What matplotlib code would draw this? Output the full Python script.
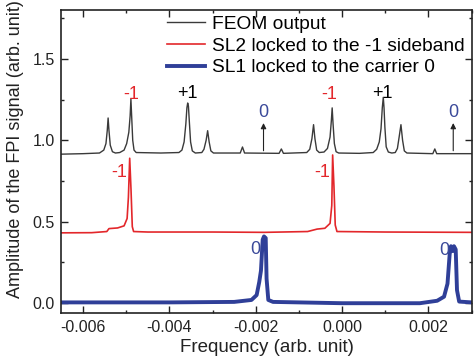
import matplotlib
matplotlib.use("Agg")
import matplotlib.pyplot as plt
from matplotlib.ticker import MultipleLocator, FormatStrFormatter

plt.rcParams['font.family'] = ['Liberation Sans', 'DejaVu Sans']
plt.rcParams['axes.unicode_minus'] = False

# FEOM output (black)
feom_x = [-0.0065, -0.0060, -0.00562, -0.00552, -0.00547, -0.00544, -0.00542, -0.0054,
          -0.00537, -0.00532, -0.00525,
          -0.00515, -0.00505, -0.00499, -0.00494, -0.00491, -0.004892, -0.00487,
          -0.00485, -0.00482, -0.00477,
          -0.0042, -0.00378, -0.00371, -0.00366, -0.00362, -0.003595, -0.003577,
          -0.00356, -0.00354, -0.00351, -0.00347, -0.0034,
          -0.00325, -0.0032, -0.00315, -0.003115, -0.00308, -0.00304, -0.00298,
          -0.00236, -0.002308, -0.00226, -0.00146, -0.001408, -0.00136,
          -0.00082, -0.00075, -0.0007, -0.000662, -0.00063, -0.00059, -0.00053,
          -0.00042, -0.00034, -0.00028, -0.00025, -0.000231, -0.00021, -0.00018,
          -0.00014, -0.00008,
          0.0004, 0.00072, 0.0008, 0.00086, 0.0009, 0.00093, 0.000953, 0.00097,
          0.00099, 0.00102, 0.00107, 0.00115,
          0.00123, 0.00128, 0.00132, 0.001362, 0.0014, 0.00144, 0.0015,
          0.0021, 0.002146, 0.00219, 0.0030]
feom_y = [0.915, 0.918, 0.922, 0.94, 0.98, 1.06, 1.137, 1.06,
          0.97, 0.93, 0.922,
          0.925, 0.94, 0.98, 1.05, 1.15, 1.254, 1.12,
          1.0, 0.94, 0.925,
          0.922, 0.925, 0.94, 0.99, 1.1, 1.2, 1.229,
          1.21, 1.12, 0.99, 0.935, 0.922,
          0.925, 0.945, 1.0, 1.059, 0.99, 0.935, 0.922,
          0.922, 0.959, 0.922, 0.92, 0.947, 0.92,
          0.925, 0.945, 1.01, 1.096, 1.01, 0.94, 0.925,
          0.928, 0.95, 1.02, 1.12, 1.199, 1.1, 0.98,
          0.93, 0.922,
          0.92, 0.925, 0.945, 0.99, 1.07, 1.2, 1.264, 1.2,
          1.08, 0.96, 0.928, 0.922,
          0.925, 0.95, 1.02, 1.096, 1.0, 0.935, 0.922,
          0.918, 0.947, 0.918, 0.918]

# SL2 locked to the -1 sideband (red)
sl2_x = [-0.0065, -0.0058, -0.00545, -0.0054, -0.0052, -0.00505, -0.00498,
         -0.00495, -0.00492, -0.00489, -0.00486, -0.00483, -0.0045, -0.003,
         -0.0018, -0.0008, -0.00058, -0.0004, -0.00028, -0.00024, -0.00022,
         -0.00019, -0.00016, -0.00012, 0.001, 0.003]
sl2_y = [0.432, 0.433, 0.44, 0.458, 0.462, 0.475, 0.52,
         0.65, 0.89, 0.70, 0.47, 0.44, 0.437, 0.437,
         0.435, 0.44, 0.455, 0.46, 0.49, 0.6, 0.91,
         0.72, 0.48, 0.44, 0.437, 0.435]

# SL1 locked to the carrier 0 (blue)
sl1_x = [-0.0065, -0.004, -0.0025, -0.0021, -0.00198, -0.00192, -0.00188,
         -0.00184, -0.00181, -0.00177, -0.00175, -0.00171, -0.0016, 0.0,
         0.0018, 0.0022, 0.00236, 0.00244, 0.00249, 0.00252, 0.00256,
         0.00259, 0.00263, 0.00266, 0.00271, 0.003]
sl1_y = [0.005, 0.005, 0.008, 0.02, 0.05, 0.13, 0.2,
         0.39, 0.41, 0.40, 0.15, 0.02, 0.008, 0.0,
         0.0, 0.015, 0.04, 0.12, 0.3, 0.35, 0.32,
         0.35, 0.33, 0.08, 0.01, 0.005]

labels = ["FEOM output", "SL2 locked to the -1 sideband", "SL1 locked to the carrier 0"]

fig = plt.figure(figsize=(4.74, 3.62), dpi=100)
ax = fig.add_axes([0.1297, 0.1354, 0.8654, 0.837])

ax.plot(feom_x, feom_y, color="#3a3a3a", lw=1.0, label=labels[0])
ax.plot(sl2_x, sl2_y, color="#e3272b", lw=1.2, label=labels[1])
ax.plot(sl1_x, sl1_y, color="#2f3f98", lw=2.8, label=labels[2])

# подписи пиков
red = "#e3272b"
blue = "#3b4a9a"
fs = 13
ax.text(-0.004878, 1.28, "-1", color=red, fontsize=fs, ha="center", va="center")
ax.text(-0.003593, 1.29, "+1", color="black", fontsize=fs, ha="center", va="center")
ax.text(-0.000293, 1.28, "-1", color=red, fontsize=fs, ha="center", va="center")
ax.text(0.000937, 1.29, "+1", color="black", fontsize=fs, ha="center", va="center")
ax.text(-0.001821, 1.17, "0", color=blue, fontsize=fs, ha="center", va="center")
ax.text(0.002573, 1.17, "0", color=blue, fontsize=fs, ha="center", va="center")
ax.text(-0.005158, 0.804, "-1", color=red, fontsize=fs, ha="center", va="center")
ax.text(-0.000455, 0.804, "-1", color=red, fontsize=fs, ha="center", va="center")
ax.text(-0.002017, 0.328, "0", color=blue, fontsize=fs, ha="center", va="center")
ax.text(0.002368, 0.325, "0", color=blue, fontsize=fs, ha="center", va="center")

for xa in (-0.001821, 0.002573):
    ax.annotate("", xy=(xa, 1.106), xytext=(xa, 0.936),
                arrowprops=dict(arrowstyle="-|>", color="#222222", lw=0.8,
                                mutation_scale=8, shrinkA=0, shrinkB=0))

ax.set_xlim(-0.0065, 0.003)
ax.set_ylim(-0.06, 1.80)
ax.xaxis.set_major_locator(MultipleLocator(0.002))
ax.xaxis.set_minor_locator(MultipleLocator(0.001))
ax.yaxis.set_major_locator(MultipleLocator(0.5))
ax.yaxis.set_minor_locator(MultipleLocator(0.25))
ax.xaxis.set_major_formatter(FormatStrFormatter('%.3f'))
ax.yaxis.set_major_formatter(FormatStrFormatter('%.1f'))
ax.tick_params(which="both", direction="in", top=True, right=True, width=1.0,
               labelsize=11.5, colors="#222222")
ax.tick_params(which="major", length=4.8, pad=5)
ax.tick_params(which="minor", length=2.5)
for s in ax.spines.values():
    s.set_linewidth(1.2)
    s.set_color("#222222")

ax.set_xlabel("Frequency (arb. unit)", fontsize=13.5, color="#222222")
ax.set_ylabel("Amplitude of the FPI signal (arb. unit)", fontsize=13, color="#222222")
ax.xaxis.set_label_coords(0.5, -0.086)
ax.yaxis.set_label_coords(-0.092, 0.54)

ax.legend(loc="upper left", bbox_to_anchor=(0.257, 0.9815), frameon=False,
          fontsize=13.8, handlelength=2.0, handletextpad=0.36,
          labelspacing=0.22, borderpad=0, borderaxespad=0)

fig.savefig("out.png", dpi=100)
